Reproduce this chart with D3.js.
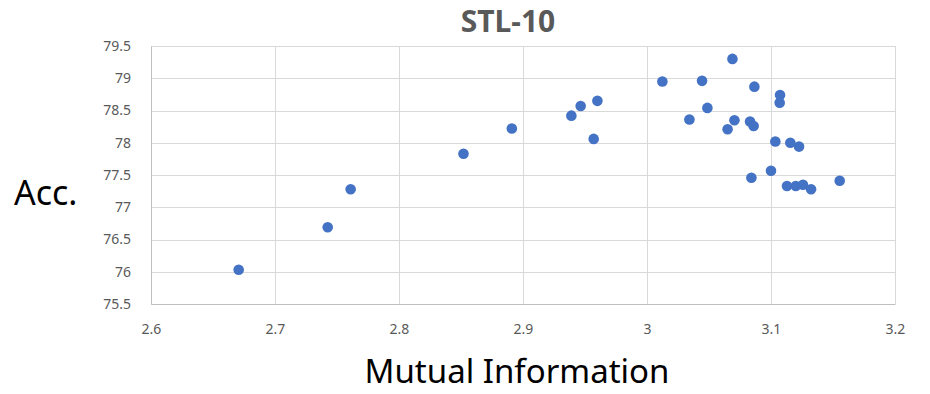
<!DOCTYPE html>
<html>
<head>
<meta charset="utf-8">
<script src="https://cdn.jsdelivr.net/npm/d3@7"></script>
<style>
  body { margin: 0; background: #fff; }
  svg { font-family: "Noto Sans", "Open Sans", sans-serif; }
  .grid line { stroke: #d9d9d9; stroke-width: 1; }
  .tick text { fill: #595959; font-size: 14px; }
</style>
</head>
<body>
<div id="chart"></div>
<script>
// mutual information vs accuracy, STL-10
const mutualInfo = [
  2.6707, 2.7425, 2.761, 2.852, 2.891, 2.939, 2.9465, 2.960, 2.957,
  3.0124, 3.0444, 3.0689, 3.0866, 3.1073, 3.107, 3.0487, 3.0342, 3.0705,
  3.0831, 3.086, 3.065, 3.1035, 3.1156, 3.1226, 3.100, 3.0842, 3.1129,
  3.120, 3.1258, 3.1323, 3.1554
];
const accuracy = [
  76.03, 76.69, 77.28, 77.83, 78.22, 78.42, 78.57, 78.65, 78.06,
  78.95, 78.96, 79.30, 78.87, 78.74, 78.62, 78.54, 78.36, 78.35,
  78.33, 78.26, 78.21, 78.02, 78.00, 77.94, 77.565, 77.457, 77.33,
  77.33, 77.35, 77.28, 77.41
];
const xTicks = [2.6, 2.7, 2.8, 2.9, 3, 3.1, 3.2];
const yTicks = [75.5, 76, 76.5, 77, 77.5, 78, 78.5, 79, 79.5];

const width = 930, height = 394;
const margin = { top: 46, right: 34, bottom: 90, left: 151 };
const plotW = width - margin.left - margin.right,
      plotH = height - margin.top - margin.bottom;

const svg = d3.select("#chart").append("svg")
    .attr("width", width)
    .attr("height", height);

const g = svg.append("g")
    .attr("transform", "translate(" + margin.left + "," + margin.top + ")");

const x = d3.scaleLinear().domain([2.6, 3.2]).range([0, 744]);
const y = d3.scaleLinear().domain([75.5, 79.5]).range([258, 0]);

// gridlines
g.append("g").attr("class", "grid")
  .selectAll("line.h").data(yTicks).enter().append("line")
    .attr("x1", 0).attr("x2", 744)
    .attr("y1", d => Math.round(y(d)) + 0.5).attr("y2", d => Math.round(y(d)) + 0.5);
g.append("g").attr("class", "grid")
  .selectAll("line.v").data(xTicks).enter().append("line")
    .attr("y1", 0).attr("y2", 258)
    .attr("x1", d => Math.round(x(d)) + 0.5).attr("x2", d => Math.round(x(d)) + 0.5);

// axes (labels only, lines come from the grid)
const xAxis = g.append("g")
    .attr("transform", "translate(0,258)")
    .call(d3.axisBottom(x).tickValues(xTicks).tickFormat(d3.format("")).tickSize(0).tickPadding(20));
xAxis.select(".domain").attr("stroke", "#bfbfbf");

const yAxis = g.append("g")
    .call(d3.axisLeft(y).tickValues(yTicks).tickFormat(d3.format("")).tickSize(0).tickPadding(20));
yAxis.select(".domain").attr("stroke", "#bfbfbf");
xAxis.attr("font-family", null).attr("font-size", null);
yAxis.attr("font-family", null).attr("font-size", null);

// points
g.selectAll("circle")
  .data(mutualInfo.map((d, i) => [d, accuracy[i]]))
  .enter().append("circle")
    .attr("cx", d => x(d[0]))
    .attr("cy", d => y(d[1]))
    .attr("r", 5.3)
    .attr("fill", "#4472c4");

// titles
svg.append("text")
    .attr("x", 508).attr("y", 32)
    .attr("text-anchor", "middle")
    .attr("font-size", 30).attr("font-weight", "bold")
    .attr("fill", "#595959")
    .text("STL-10");

svg.append("text")
    .attr("x", 14).attr("y", 205)
    .attr("font-size", 34)
    .attr("fill", "#000")
    .text("Acc.");

svg.append("text")
    .attr("x", 517).attr("y", 383)
    .attr("text-anchor", "middle")
    .attr("font-size", 33)
    .attr("fill", "#000")
    .text("Mutual Information");
</script>
</body>
</html>
